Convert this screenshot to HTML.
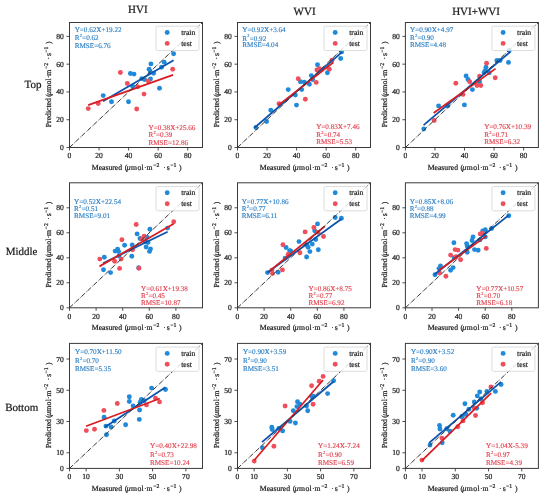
<!DOCTYPE html>
<html><head><meta charset="utf-8"><title>Scatter plots</title>
<style>
html,body{margin:0;padding:0;background:#fff;}
body{width:550px;height:498px;overflow:hidden;}
svg{display:block;font-family:"Liberation Serif",serif;will-change:transform;}
text{paint-order:stroke;stroke-width:0.22px;stroke-linejoin:round;text-rendering:geometricPrecision;}
</style></head><body>
<svg width="550" height="498" viewBox="0 0 550 498">
<rect width="550" height="498" fill="#fff"/>
<circle cx="173.6" cy="53.7" r="2.45" fill="#1f8ad9"/>
<circle cx="164.2" cy="62.3" r="2.45" fill="#1f8ad9"/>
<circle cx="150.9" cy="63.9" r="2.45" fill="#1f8ad9"/>
<circle cx="161.5" cy="67.2" r="2.45" fill="#1f8ad9"/>
<circle cx="149.1" cy="69.2" r="2.45" fill="#1f8ad9"/>
<circle cx="150.3" cy="72" r="2.45" fill="#1f8ad9"/>
<circle cx="153.6" cy="73.2" r="2.45" fill="#1f8ad9"/>
<circle cx="130.4" cy="73.5" r="2.45" fill="#1f8ad9"/>
<circle cx="134" cy="74.1" r="2.45" fill="#1f8ad9"/>
<circle cx="141.8" cy="78.6" r="2.45" fill="#1f8ad9"/>
<circle cx="144.5" cy="79.5" r="2.45" fill="#1f8ad9"/>
<circle cx="150.5" cy="79" r="2.45" fill="#1f8ad9"/>
<circle cx="132.7" cy="86.5" r="2.45" fill="#1f8ad9"/>
<circle cx="159.5" cy="88.3" r="2.45" fill="#1f8ad9"/>
<circle cx="103.2" cy="95.6" r="2.45" fill="#1f8ad9"/>
<circle cx="111.5" cy="101.7" r="2.45" fill="#1f8ad9"/>
<circle cx="128.5" cy="101.7" r="2.45" fill="#1f8ad9"/>
<circle cx="172.7" cy="69.2" r="2.45" fill="#ef4f5c"/>
<circle cx="120.4" cy="72.5" r="2.45" fill="#ef4f5c"/>
<circle cx="127.3" cy="83.5" r="2.45" fill="#ef4f5c"/>
<circle cx="148.2" cy="81" r="2.45" fill="#ef4f5c"/>
<circle cx="137.6" cy="86.8" r="2.45" fill="#ef4f5c"/>
<circle cx="144" cy="94.1" r="2.45" fill="#ef4f5c"/>
<circle cx="98.2" cy="103.5" r="2.45" fill="#ef4f5c"/>
<circle cx="88.2" cy="108.6" r="2.45" fill="#ef4f5c"/>
<circle cx="136.7" cy="109" r="2.45" fill="#ef4f5c"/>
<line x1="103" y1="101.28" x2="173.6" y2="60.15" stroke="#0a52ad" stroke-width="1.75"/>
<line x1="88.2" y1="105.18" x2="173.1" y2="74.86" stroke="#d81c22" stroke-width="1.75"/>
<line x1="69.5" y1="147.5" x2="202.5" y2="22.5" stroke="#333" stroke-width="1.0" stroke-dasharray="4.8,1.3,0.8,1.3"/>
<rect x="156" y="26.2" width="43" height="24.3" rx="1.6" fill="#ffffff" fill-opacity="0.8" stroke="#d4d4d4" stroke-width="0.8"/>
<circle cx="167.2" cy="32.5" r="2.45" fill="#1f8ad9"/>
<circle cx="167.2" cy="43.4" r="2.45" fill="#ef4f5c"/>
<text x="181.2" y="34.8" font-size="7.7" fill="#262626" stroke="#262626">train</text>
<text x="181.2" y="45.7" font-size="7.7" fill="#262626" stroke="#262626">test</text>
<text x="74.7" y="32" fill="#2b7fc4" stroke="#2b7fc4" style="stroke-width:0.14px" font-size="7.15">Y=0.62X+19.22</text>
<text x="74.7" y="40.2" fill="#2b7fc4" stroke="#2b7fc4" style="stroke-width:0.14px" font-size="7.15">R<tspan dx="0.2" dy="-3.3" font-size="4.3">2</tspan><tspan dx="0.3" dy="3.3">=0.62</tspan></text>
<text x="74.7" y="47.5" fill="#2b7fc4" stroke="#2b7fc4" style="stroke-width:0.14px" font-size="7.15">RMSE=6.76</text>
<text x="148.5" y="129.6" fill="#e0424e" stroke="#e0424e" style="stroke-width:0.14px" font-size="7.15">Y=0.38X+25.66</text>
<text x="148.5" y="137.3" fill="#e0424e" stroke="#e0424e" style="stroke-width:0.14px" font-size="7.15">R<tspan dx="0.2" dy="-3.3" font-size="4.3">2</tspan><tspan dx="0.3" dy="3.3">=0.39</tspan></text>
<text x="148.5" y="144.5" fill="#e0424e" stroke="#e0424e" style="stroke-width:0.14px" font-size="7.15">RMSE=12.86</text>
<rect x="69.5" y="22.5" width="133" height="125" fill="none" stroke="#3a3a3a" stroke-width="1"/>
<line x1="69.5" y1="147.5" x2="69.5" y2="150.5" stroke="#3a3a3a" stroke-width="0.9"/>
<line x1="66.5" y1="147.5" x2="69.5" y2="147.5" stroke="#3a3a3a" stroke-width="0.9"/>
<text x="69.5" y="158.2" font-size="7.6" text-anchor="middle" fill="#222" stroke="#222">0</text>
<text x="63.9" y="150" font-size="7.6" text-anchor="end" fill="#222" stroke="#222">0</text>
<line x1="99.06" y1="147.5" x2="99.06" y2="150.5" stroke="#3a3a3a" stroke-width="0.9"/>
<line x1="66.5" y1="119.72" x2="69.5" y2="119.72" stroke="#3a3a3a" stroke-width="0.9"/>
<text x="99.06" y="158.2" font-size="7.6" text-anchor="middle" fill="#222" stroke="#222">20</text>
<text x="63.9" y="122.22" font-size="7.6" text-anchor="end" fill="#222" stroke="#222">20</text>
<line x1="128.61" y1="147.5" x2="128.61" y2="150.5" stroke="#3a3a3a" stroke-width="0.9"/>
<line x1="66.5" y1="91.94" x2="69.5" y2="91.94" stroke="#3a3a3a" stroke-width="0.9"/>
<text x="128.61" y="158.2" font-size="7.6" text-anchor="middle" fill="#222" stroke="#222">40</text>
<text x="63.9" y="94.44" font-size="7.6" text-anchor="end" fill="#222" stroke="#222">40</text>
<line x1="158.17" y1="147.5" x2="158.17" y2="150.5" stroke="#3a3a3a" stroke-width="0.9"/>
<line x1="66.5" y1="64.17" x2="69.5" y2="64.17" stroke="#3a3a3a" stroke-width="0.9"/>
<text x="158.17" y="158.2" font-size="7.6" text-anchor="middle" fill="#222" stroke="#222">60</text>
<text x="63.9" y="66.67" font-size="7.6" text-anchor="end" fill="#222" stroke="#222">60</text>
<line x1="187.72" y1="147.5" x2="187.72" y2="150.5" stroke="#3a3a3a" stroke-width="0.9"/>
<line x1="66.5" y1="36.39" x2="69.5" y2="36.39" stroke="#3a3a3a" stroke-width="0.9"/>
<text x="187.72" y="158.2" font-size="7.6" text-anchor="middle" fill="#222" stroke="#222">80</text>
<text x="63.9" y="38.89" font-size="7.6" text-anchor="end" fill="#222" stroke="#222">80</text>
<text transform="translate(0,169.8)" font-size="7.7" fill="#222" stroke="#222"><tspan x="91.80" y="0">Measured</tspan><tspan x="124.70" y="0">(</tspan><tspan x="126.40" y="0" font-style="italic" font-size="8.4">μ</tspan><tspan x="130.90" y="0">m</tspan><tspan x="137.40" y="0">o</tspan><tspan x="141.60" y="0">l</tspan><tspan x="144.10" y="0">·</tspan><tspan x="146.50" y="0">m</tspan><tspan x="153.30" y="-3.2" font-size="5.8">−2</tspan><tspan x="163.20" y="0">·</tspan><tspan x="166.80" y="0">s</tspan><tspan x="170.20" y="-3.2" font-size="5.8">−1</tspan><tspan x="179.10" y="0">)</tspan></text>
<text transform="translate(50.8,85) rotate(-90)" font-size="7.7" fill="#222" stroke="#222"><tspan x="-42.2" y="0">Predicted</tspan><tspan x="-11.80" y="0">(</tspan><tspan x="-10.15" y="0" font-style="italic" font-size="8.4">μ</tspan><tspan x="-5.79" y="0">m</tspan><tspan x="0.52" y="0">o</tspan><tspan x="4.59" y="0">l</tspan><tspan x="7.02" y="0">·</tspan><tspan x="9.35" y="0">m</tspan><tspan x="15.91" y="-3.2" font-size="5.8">−2</tspan><tspan x="25.55" y="0">·</tspan><tspan x="29.04" y="0">s</tspan><tspan x="32.31" y="-3.2" font-size="5.8">−1</tspan><tspan x="40.97" y="0">)</tspan></text>
<circle cx="341.6" cy="51.9" r="2.45" fill="#1f8ad9"/>
<circle cx="340.7" cy="58.5" r="2.45" fill="#1f8ad9"/>
<circle cx="317.5" cy="64.7" r="2.45" fill="#1f8ad9"/>
<circle cx="327.4" cy="72.8" r="2.45" fill="#1f8ad9"/>
<circle cx="311.3" cy="75.6" r="2.45" fill="#1f8ad9"/>
<circle cx="312.6" cy="79.5" r="2.45" fill="#1f8ad9"/>
<circle cx="300.4" cy="81.7" r="2.45" fill="#1f8ad9"/>
<circle cx="304.3" cy="82.1" r="2.45" fill="#1f8ad9"/>
<circle cx="309.4" cy="84.2" r="2.45" fill="#1f8ad9"/>
<circle cx="288.2" cy="89.6" r="2.45" fill="#1f8ad9"/>
<circle cx="301.7" cy="89.6" r="2.45" fill="#1f8ad9"/>
<circle cx="295.4" cy="95.1" r="2.45" fill="#1f8ad9"/>
<circle cx="296.5" cy="105.1" r="2.45" fill="#1f8ad9"/>
<circle cx="270.8" cy="110.3" r="2.45" fill="#1f8ad9"/>
<circle cx="266.6" cy="121.5" r="2.45" fill="#1f8ad9"/>
<circle cx="255.9" cy="127.5" r="2.45" fill="#1f8ad9"/>
<circle cx="331.9" cy="60.2" r="2.45" fill="#ef4f5c"/>
<circle cx="319.4" cy="68.6" r="2.45" fill="#ef4f5c"/>
<circle cx="316.9" cy="69.9" r="2.45" fill="#ef4f5c"/>
<circle cx="329.3" cy="69.2" r="2.45" fill="#ef4f5c"/>
<circle cx="298.2" cy="78.8" r="2.45" fill="#ef4f5c"/>
<circle cx="316.2" cy="82.4" r="2.45" fill="#ef4f5c"/>
<circle cx="305.3" cy="99.2" r="2.45" fill="#ef4f5c"/>
<circle cx="279" cy="103.7" r="2.45" fill="#ef4f5c"/>
<line x1="254.5" y1="127.75" x2="342" y2="52.09" stroke="#0a52ad" stroke-width="1.75"/>
<line x1="278.5" y1="105.16" x2="333.5" y2="62.25" stroke="#d81c22" stroke-width="1.75"/>
<line x1="237.5" y1="147.5" x2="370.5" y2="22.5" stroke="#333" stroke-width="1.0" stroke-dasharray="4.8,1.3,0.8,1.3"/>
<rect x="324" y="26.2" width="43" height="24.3" rx="1.6" fill="#ffffff" fill-opacity="0.8" stroke="#d4d4d4" stroke-width="0.8"/>
<circle cx="335.2" cy="32.5" r="2.45" fill="#1f8ad9"/>
<circle cx="335.2" cy="43.4" r="2.45" fill="#ef4f5c"/>
<text x="349.2" y="34.8" font-size="7.7" fill="#262626" stroke="#262626">train</text>
<text x="349.2" y="45.7" font-size="7.7" fill="#262626" stroke="#262626">test</text>
<text x="242.3" y="31.8" fill="#2b7fc4" stroke="#2b7fc4" style="stroke-width:0.14px" font-size="7.15">Y=0.92X+3.64</text>
<text x="242.3" y="40.5" fill="#2b7fc4" stroke="#2b7fc4" style="stroke-width:0.14px" font-size="7.15">R<tspan dx="0.2" dy="-3.3" font-size="4.3">2</tspan><tspan dx="0.3" dy="3.3">=0.92</tspan></text>
<text x="242.3" y="47.4" fill="#2b7fc4" stroke="#2b7fc4" style="stroke-width:0.14px" font-size="7.15">RMSE=4.04</text>
<text x="316.2" y="129.2" fill="#e0424e" stroke="#e0424e" style="stroke-width:0.14px" font-size="7.15">Y=0.83X+7.46</text>
<text x="316.2" y="136.9" fill="#e0424e" stroke="#e0424e" style="stroke-width:0.14px" font-size="7.15">R<tspan dx="0.2" dy="-3.3" font-size="4.3">2</tspan><tspan dx="0.3" dy="3.3">=0.74</tspan></text>
<text x="316.2" y="144.2" fill="#e0424e" stroke="#e0424e" style="stroke-width:0.14px" font-size="7.15">RMSE=5.53</text>
<rect x="237.5" y="22.5" width="133" height="125" fill="none" stroke="#3a3a3a" stroke-width="1"/>
<line x1="237.5" y1="147.5" x2="237.5" y2="150.5" stroke="#3a3a3a" stroke-width="0.9"/>
<line x1="234.5" y1="147.5" x2="237.5" y2="147.5" stroke="#3a3a3a" stroke-width="0.9"/>
<text x="237.5" y="158.2" font-size="7.6" text-anchor="middle" fill="#222" stroke="#222">0</text>
<text x="231.9" y="150" font-size="7.6" text-anchor="end" fill="#222" stroke="#222">0</text>
<line x1="267.06" y1="147.5" x2="267.06" y2="150.5" stroke="#3a3a3a" stroke-width="0.9"/>
<line x1="234.5" y1="119.72" x2="237.5" y2="119.72" stroke="#3a3a3a" stroke-width="0.9"/>
<text x="267.06" y="158.2" font-size="7.6" text-anchor="middle" fill="#222" stroke="#222">20</text>
<text x="231.9" y="122.22" font-size="7.6" text-anchor="end" fill="#222" stroke="#222">20</text>
<line x1="296.61" y1="147.5" x2="296.61" y2="150.5" stroke="#3a3a3a" stroke-width="0.9"/>
<line x1="234.5" y1="91.94" x2="237.5" y2="91.94" stroke="#3a3a3a" stroke-width="0.9"/>
<text x="296.61" y="158.2" font-size="7.6" text-anchor="middle" fill="#222" stroke="#222">40</text>
<text x="231.9" y="94.44" font-size="7.6" text-anchor="end" fill="#222" stroke="#222">40</text>
<line x1="326.17" y1="147.5" x2="326.17" y2="150.5" stroke="#3a3a3a" stroke-width="0.9"/>
<line x1="234.5" y1="64.17" x2="237.5" y2="64.17" stroke="#3a3a3a" stroke-width="0.9"/>
<text x="326.17" y="158.2" font-size="7.6" text-anchor="middle" fill="#222" stroke="#222">60</text>
<text x="231.9" y="66.67" font-size="7.6" text-anchor="end" fill="#222" stroke="#222">60</text>
<line x1="355.72" y1="147.5" x2="355.72" y2="150.5" stroke="#3a3a3a" stroke-width="0.9"/>
<line x1="234.5" y1="36.39" x2="237.5" y2="36.39" stroke="#3a3a3a" stroke-width="0.9"/>
<text x="355.72" y="158.2" font-size="7.6" text-anchor="middle" fill="#222" stroke="#222">80</text>
<text x="231.9" y="38.89" font-size="7.6" text-anchor="end" fill="#222" stroke="#222">80</text>
<text transform="translate(0,169.8)" font-size="7.7" fill="#222" stroke="#222"><tspan x="259.80" y="0">Measured</tspan><tspan x="292.70" y="0">(</tspan><tspan x="294.40" y="0" font-style="italic" font-size="8.4">μ</tspan><tspan x="298.90" y="0">m</tspan><tspan x="305.40" y="0">o</tspan><tspan x="309.60" y="0">l</tspan><tspan x="312.10" y="0">·</tspan><tspan x="314.50" y="0">m</tspan><tspan x="321.30" y="-3.2" font-size="5.8">−2</tspan><tspan x="331.20" y="0">·</tspan><tspan x="334.80" y="0">s</tspan><tspan x="338.20" y="-3.2" font-size="5.8">−1</tspan><tspan x="347.10" y="0">)</tspan></text>
<text transform="translate(218.8,85) rotate(-90)" font-size="7.7" fill="#222" stroke="#222"><tspan x="-42.2" y="0">Predicted</tspan><tspan x="-11.80" y="0">(</tspan><tspan x="-10.15" y="0" font-style="italic" font-size="8.4">μ</tspan><tspan x="-5.79" y="0">m</tspan><tspan x="0.52" y="0">o</tspan><tspan x="4.59" y="0">l</tspan><tspan x="7.02" y="0">·</tspan><tspan x="9.35" y="0">m</tspan><tspan x="15.91" y="-3.2" font-size="5.8">−2</tspan><tspan x="25.55" y="0">·</tspan><tspan x="29.04" y="0">s</tspan><tspan x="32.31" y="-3.2" font-size="5.8">−1</tspan><tspan x="40.97" y="0">)</tspan></text>
<circle cx="509.4" cy="50.2" r="2.45" fill="#1f8ad9"/>
<circle cx="496.9" cy="60.5" r="2.45" fill="#1f8ad9"/>
<circle cx="500.1" cy="60.5" r="2.45" fill="#1f8ad9"/>
<circle cx="508.5" cy="62.4" r="2.45" fill="#1f8ad9"/>
<circle cx="486" cy="67.3" r="2.45" fill="#1f8ad9"/>
<circle cx="485.3" cy="70.5" r="2.45" fill="#1f8ad9"/>
<circle cx="484.1" cy="72.4" r="2.45" fill="#1f8ad9"/>
<circle cx="489.2" cy="72.7" r="2.45" fill="#1f8ad9"/>
<circle cx="466.1" cy="76" r="2.45" fill="#1f8ad9"/>
<circle cx="468" cy="79.5" r="2.45" fill="#1f8ad9"/>
<circle cx="479.6" cy="81.7" r="2.45" fill="#1f8ad9"/>
<circle cx="472.4" cy="89.6" r="2.45" fill="#1f8ad9"/>
<circle cx="464.4" cy="104.9" r="2.45" fill="#1f8ad9"/>
<circle cx="438.6" cy="105.9" r="2.45" fill="#1f8ad9"/>
<circle cx="447.6" cy="105.9" r="2.45" fill="#1f8ad9"/>
<circle cx="423.8" cy="129" r="2.45" fill="#1f8ad9"/>
<circle cx="486.6" cy="63.2" r="2.45" fill="#ef4f5c"/>
<circle cx="479.6" cy="76.3" r="2.45" fill="#ef4f5c"/>
<circle cx="495.2" cy="77.8" r="2.45" fill="#ef4f5c"/>
<circle cx="455.8" cy="83.3" r="2.45" fill="#ef4f5c"/>
<circle cx="469.7" cy="81.7" r="2.45" fill="#ef4f5c"/>
<circle cx="477" cy="85.5" r="2.45" fill="#ef4f5c"/>
<circle cx="480.8" cy="85.5" r="2.45" fill="#ef4f5c"/>
<circle cx="463" cy="94.4" r="2.45" fill="#ef4f5c"/>
<circle cx="434.2" cy="120.5" r="2.45" fill="#ef4f5c"/>
<line x1="423.6" y1="125.2" x2="510.4" y2="51.78" stroke="#0a52ad" stroke-width="1.75"/>
<line x1="433.6" y1="112.93" x2="495.6" y2="68.64" stroke="#d81c22" stroke-width="1.75"/>
<line x1="405.4" y1="147.5" x2="538.4" y2="22.5" stroke="#333" stroke-width="1.0" stroke-dasharray="4.8,1.3,0.8,1.3"/>
<rect x="491.9" y="26.2" width="43" height="24.3" rx="1.6" fill="#ffffff" fill-opacity="0.8" stroke="#d4d4d4" stroke-width="0.8"/>
<circle cx="503.1" cy="32.5" r="2.45" fill="#1f8ad9"/>
<circle cx="503.1" cy="43.4" r="2.45" fill="#ef4f5c"/>
<text x="517.1" y="34.8" font-size="7.7" fill="#262626" stroke="#262626">train</text>
<text x="517.1" y="45.7" font-size="7.7" fill="#262626" stroke="#262626">test</text>
<text x="410" y="31.8" fill="#2b7fc4" stroke="#2b7fc4" style="stroke-width:0.14px" font-size="7.15">Y=0.90X+4.97</text>
<text x="410" y="40.4" fill="#2b7fc4" stroke="#2b7fc4" style="stroke-width:0.14px" font-size="7.15">R<tspan dx="0.2" dy="-3.3" font-size="4.3">2</tspan><tspan dx="0.3" dy="3.3">=0.90</tspan></text>
<text x="410" y="47.4" fill="#2b7fc4" stroke="#2b7fc4" style="stroke-width:0.14px" font-size="7.15">RMSE=4.48</text>
<text x="484.2" y="129.2" fill="#e0424e" stroke="#e0424e" style="stroke-width:0.14px" font-size="7.15">Y=0.76X+10.39</text>
<text x="484.2" y="137" fill="#e0424e" stroke="#e0424e" style="stroke-width:0.14px" font-size="7.15">R<tspan dx="0.2" dy="-3.3" font-size="4.3">2</tspan><tspan dx="0.3" dy="3.3">=0.71</tspan></text>
<text x="484.2" y="144.2" fill="#e0424e" stroke="#e0424e" style="stroke-width:0.14px" font-size="7.15">RMSE=6.32</text>
<rect x="405.4" y="22.5" width="133" height="125" fill="none" stroke="#3a3a3a" stroke-width="1"/>
<line x1="405.4" y1="147.5" x2="405.4" y2="150.5" stroke="#3a3a3a" stroke-width="0.9"/>
<line x1="402.4" y1="147.5" x2="405.4" y2="147.5" stroke="#3a3a3a" stroke-width="0.9"/>
<text x="405.4" y="158.2" font-size="7.6" text-anchor="middle" fill="#222" stroke="#222">0</text>
<text x="399.8" y="150" font-size="7.6" text-anchor="end" fill="#222" stroke="#222">0</text>
<line x1="434.96" y1="147.5" x2="434.96" y2="150.5" stroke="#3a3a3a" stroke-width="0.9"/>
<line x1="402.4" y1="119.72" x2="405.4" y2="119.72" stroke="#3a3a3a" stroke-width="0.9"/>
<text x="434.96" y="158.2" font-size="7.6" text-anchor="middle" fill="#222" stroke="#222">20</text>
<text x="399.8" y="122.22" font-size="7.6" text-anchor="end" fill="#222" stroke="#222">20</text>
<line x1="464.51" y1="147.5" x2="464.51" y2="150.5" stroke="#3a3a3a" stroke-width="0.9"/>
<line x1="402.4" y1="91.94" x2="405.4" y2="91.94" stroke="#3a3a3a" stroke-width="0.9"/>
<text x="464.51" y="158.2" font-size="7.6" text-anchor="middle" fill="#222" stroke="#222">40</text>
<text x="399.8" y="94.44" font-size="7.6" text-anchor="end" fill="#222" stroke="#222">40</text>
<line x1="494.07" y1="147.5" x2="494.07" y2="150.5" stroke="#3a3a3a" stroke-width="0.9"/>
<line x1="402.4" y1="64.17" x2="405.4" y2="64.17" stroke="#3a3a3a" stroke-width="0.9"/>
<text x="494.07" y="158.2" font-size="7.6" text-anchor="middle" fill="#222" stroke="#222">60</text>
<text x="399.8" y="66.67" font-size="7.6" text-anchor="end" fill="#222" stroke="#222">60</text>
<line x1="523.62" y1="147.5" x2="523.62" y2="150.5" stroke="#3a3a3a" stroke-width="0.9"/>
<line x1="402.4" y1="36.39" x2="405.4" y2="36.39" stroke="#3a3a3a" stroke-width="0.9"/>
<text x="523.62" y="158.2" font-size="7.6" text-anchor="middle" fill="#222" stroke="#222">80</text>
<text x="399.8" y="38.89" font-size="7.6" text-anchor="end" fill="#222" stroke="#222">80</text>
<text transform="translate(0,169.8)" font-size="7.7" fill="#222" stroke="#222"><tspan x="427.70" y="0">Measured</tspan><tspan x="460.60" y="0">(</tspan><tspan x="462.30" y="0" font-style="italic" font-size="8.4">μ</tspan><tspan x="466.80" y="0">m</tspan><tspan x="473.30" y="0">o</tspan><tspan x="477.50" y="0">l</tspan><tspan x="480.00" y="0">·</tspan><tspan x="482.40" y="0">m</tspan><tspan x="489.20" y="-3.2" font-size="5.8">−2</tspan><tspan x="499.10" y="0">·</tspan><tspan x="502.70" y="0">s</tspan><tspan x="506.10" y="-3.2" font-size="5.8">−1</tspan><tspan x="515.00" y="0">)</tspan></text>
<text transform="translate(386.7,85) rotate(-90)" font-size="7.7" fill="#222" stroke="#222"><tspan x="-42.2" y="0">Predicted</tspan><tspan x="-11.80" y="0">(</tspan><tspan x="-10.15" y="0" font-style="italic" font-size="8.4">μ</tspan><tspan x="-5.79" y="0">m</tspan><tspan x="0.52" y="0">o</tspan><tspan x="4.59" y="0">l</tspan><tspan x="7.02" y="0">·</tspan><tspan x="9.35" y="0">m</tspan><tspan x="15.91" y="-3.2" font-size="5.8">−2</tspan><tspan x="25.55" y="0">·</tspan><tspan x="29.04" y="0">s</tspan><tspan x="32.31" y="-3.2" font-size="5.8">−1</tspan><tspan x="40.97" y="0">)</tspan></text>
<circle cx="167.6" cy="228.1" r="2.45" fill="#1f8ad9"/>
<circle cx="149.9" cy="229.3" r="2.45" fill="#1f8ad9"/>
<circle cx="137.1" cy="233.9" r="2.45" fill="#1f8ad9"/>
<circle cx="140" cy="238.5" r="2.45" fill="#1f8ad9"/>
<circle cx="147" cy="237.2" r="2.45" fill="#1f8ad9"/>
<circle cx="145.1" cy="241.7" r="2.45" fill="#1f8ad9"/>
<circle cx="148" cy="242.5" r="2.45" fill="#1f8ad9"/>
<circle cx="146.1" cy="247" r="2.45" fill="#1f8ad9"/>
<circle cx="150.5" cy="249" r="2.45" fill="#1f8ad9"/>
<circle cx="149.5" cy="251.4" r="2.45" fill="#1f8ad9"/>
<circle cx="132.2" cy="244.9" r="2.45" fill="#1f8ad9"/>
<circle cx="124.6" cy="245.3" r="2.45" fill="#1f8ad9"/>
<circle cx="115.1" cy="251.1" r="2.45" fill="#1f8ad9"/>
<circle cx="117.6" cy="249.1" r="2.45" fill="#1f8ad9"/>
<circle cx="118.6" cy="251.6" r="2.45" fill="#1f8ad9"/>
<circle cx="119.1" cy="255.9" r="2.45" fill="#1f8ad9"/>
<circle cx="104.3" cy="257.3" r="2.45" fill="#1f8ad9"/>
<circle cx="131.8" cy="256.2" r="2.45" fill="#1f8ad9"/>
<circle cx="103.5" cy="269.7" r="2.45" fill="#1f8ad9"/>
<circle cx="110.6" cy="272.6" r="2.45" fill="#1f8ad9"/>
<circle cx="138.7" cy="267.7" r="2.45" fill="#1f8ad9"/>
<circle cx="173.7" cy="221.8" r="2.45" fill="#ef4f5c"/>
<circle cx="136.2" cy="224.5" r="2.45" fill="#ef4f5c"/>
<circle cx="144.1" cy="236.2" r="2.45" fill="#ef4f5c"/>
<circle cx="142" cy="239.1" r="2.45" fill="#ef4f5c"/>
<circle cx="121.9" cy="239.8" r="2.45" fill="#ef4f5c"/>
<circle cx="132.6" cy="249.8" r="2.45" fill="#ef4f5c"/>
<circle cx="99.8" cy="259.1" r="2.45" fill="#ef4f5c"/>
<circle cx="114.6" cy="261.3" r="2.45" fill="#ef4f5c"/>
<circle cx="121.1" cy="259.1" r="2.45" fill="#ef4f5c"/>
<circle cx="119.6" cy="268.4" r="2.45" fill="#ef4f5c"/>
<circle cx="138.9" cy="268.2" r="2.45" fill="#ef4f5c"/>
<line x1="103" y1="263.25" x2="167.6" y2="231.68" stroke="#0a52ad" stroke-width="1.75"/>
<line x1="99.5" y1="266.38" x2="173.7" y2="223.84" stroke="#d81c22" stroke-width="1.75"/>
<line x1="69.5" y1="307.8" x2="202.5" y2="182.8" stroke="#333" stroke-width="1.0" stroke-dasharray="4.8,1.3,0.8,1.3"/>
<rect x="156" y="186.5" width="43" height="24.3" rx="1.6" fill="#ffffff" fill-opacity="0.8" stroke="#d4d4d4" stroke-width="0.8"/>
<circle cx="167.2" cy="192.8" r="2.45" fill="#1f8ad9"/>
<circle cx="167.2" cy="203.7" r="2.45" fill="#ef4f5c"/>
<text x="181.2" y="195.1" font-size="7.7" fill="#262626" stroke="#262626">train</text>
<text x="181.2" y="206" font-size="7.7" fill="#262626" stroke="#262626">test</text>
<text x="74.1" y="203.8" fill="#2b7fc4" stroke="#2b7fc4" style="stroke-width:0.14px" font-size="7.15">Y=0.52X+22.54</text>
<text x="74.1" y="211" fill="#2b7fc4" stroke="#2b7fc4" style="stroke-width:0.14px" font-size="7.15">R<tspan dx="0.2" dy="-3.3" font-size="4.3">2</tspan><tspan dx="0.3" dy="3.3">=0.51</tspan></text>
<text x="74.1" y="217.8" fill="#2b7fc4" stroke="#2b7fc4" style="stroke-width:0.14px" font-size="7.15">RMSE=9.01</text>
<text x="141" y="291.2" fill="#e0424e" stroke="#e0424e" style="stroke-width:0.14px" font-size="7.15">Y=0.61X+19.38</text>
<text x="141" y="298.3" fill="#e0424e" stroke="#e0424e" style="stroke-width:0.14px" font-size="7.15">R<tspan dx="0.2" dy="-3.3" font-size="4.3">2</tspan><tspan dx="0.3" dy="3.3">=0.45</tspan></text>
<text x="141" y="305.1" fill="#e0424e" stroke="#e0424e" style="stroke-width:0.14px" font-size="7.15">RMSE=10.87</text>
<rect x="69.5" y="182.8" width="133" height="125" fill="none" stroke="#3a3a3a" stroke-width="1"/>
<line x1="69.5" y1="307.8" x2="69.5" y2="310.8" stroke="#3a3a3a" stroke-width="0.9"/>
<line x1="66.5" y1="307.8" x2="69.5" y2="307.8" stroke="#3a3a3a" stroke-width="0.9"/>
<text x="69.5" y="318.5" font-size="7.6" text-anchor="middle" fill="#222" stroke="#222">0</text>
<text x="63.9" y="310.3" font-size="7.6" text-anchor="end" fill="#222" stroke="#222">0</text>
<line x1="96.1" y1="307.8" x2="96.1" y2="310.8" stroke="#3a3a3a" stroke-width="0.9"/>
<line x1="66.5" y1="282.8" x2="69.5" y2="282.8" stroke="#3a3a3a" stroke-width="0.9"/>
<text x="96.1" y="318.5" font-size="7.6" text-anchor="middle" fill="#222" stroke="#222">20</text>
<text x="63.9" y="285.3" font-size="7.6" text-anchor="end" fill="#222" stroke="#222">20</text>
<line x1="122.7" y1="307.8" x2="122.7" y2="310.8" stroke="#3a3a3a" stroke-width="0.9"/>
<line x1="66.5" y1="257.8" x2="69.5" y2="257.8" stroke="#3a3a3a" stroke-width="0.9"/>
<text x="122.7" y="318.5" font-size="7.6" text-anchor="middle" fill="#222" stroke="#222">40</text>
<text x="63.9" y="260.3" font-size="7.6" text-anchor="end" fill="#222" stroke="#222">40</text>
<line x1="149.3" y1="307.8" x2="149.3" y2="310.8" stroke="#3a3a3a" stroke-width="0.9"/>
<line x1="66.5" y1="232.8" x2="69.5" y2="232.8" stroke="#3a3a3a" stroke-width="0.9"/>
<text x="149.3" y="318.5" font-size="7.6" text-anchor="middle" fill="#222" stroke="#222">60</text>
<text x="63.9" y="235.3" font-size="7.6" text-anchor="end" fill="#222" stroke="#222">60</text>
<line x1="175.9" y1="307.8" x2="175.9" y2="310.8" stroke="#3a3a3a" stroke-width="0.9"/>
<line x1="66.5" y1="207.8" x2="69.5" y2="207.8" stroke="#3a3a3a" stroke-width="0.9"/>
<text x="175.9" y="318.5" font-size="7.6" text-anchor="middle" fill="#222" stroke="#222">80</text>
<text x="63.9" y="210.3" font-size="7.6" text-anchor="end" fill="#222" stroke="#222">80</text>
<text transform="translate(0,330.1)" font-size="7.7" fill="#222" stroke="#222"><tspan x="91.80" y="0">Measured</tspan><tspan x="124.70" y="0">(</tspan><tspan x="126.40" y="0" font-style="italic" font-size="8.4">μ</tspan><tspan x="130.90" y="0">m</tspan><tspan x="137.40" y="0">o</tspan><tspan x="141.60" y="0">l</tspan><tspan x="144.10" y="0">·</tspan><tspan x="146.50" y="0">m</tspan><tspan x="153.30" y="-3.2" font-size="5.8">−2</tspan><tspan x="163.20" y="0">·</tspan><tspan x="166.80" y="0">s</tspan><tspan x="170.20" y="-3.2" font-size="5.8">−1</tspan><tspan x="179.10" y="0">)</tspan></text>
<text transform="translate(50.8,245.3) rotate(-90)" font-size="7.7" fill="#222" stroke="#222"><tspan x="-42.2" y="0">Predicted</tspan><tspan x="-11.80" y="0">(</tspan><tspan x="-10.15" y="0" font-style="italic" font-size="8.4">μ</tspan><tspan x="-5.79" y="0">m</tspan><tspan x="0.52" y="0">o</tspan><tspan x="4.59" y="0">l</tspan><tspan x="7.02" y="0">·</tspan><tspan x="9.35" y="0">m</tspan><tspan x="15.91" y="-3.2" font-size="5.8">−2</tspan><tspan x="25.55" y="0">·</tspan><tspan x="29.04" y="0">s</tspan><tspan x="32.31" y="-3.2" font-size="5.8">−1</tspan><tspan x="40.97" y="0">)</tspan></text>
<circle cx="335.2" cy="217.5" r="2.45" fill="#1f8ad9"/>
<circle cx="341.4" cy="218.2" r="2.45" fill="#1f8ad9"/>
<circle cx="317.5" cy="223.9" r="2.45" fill="#1f8ad9"/>
<circle cx="314.7" cy="230.7" r="2.45" fill="#1f8ad9"/>
<circle cx="299" cy="241.6" r="2.45" fill="#1f8ad9"/>
<circle cx="315.7" cy="239.5" r="2.45" fill="#1f8ad9"/>
<circle cx="312.3" cy="244.1" r="2.45" fill="#1f8ad9"/>
<circle cx="306.9" cy="244.9" r="2.45" fill="#1f8ad9"/>
<circle cx="308.1" cy="247.3" r="2.45" fill="#1f8ad9"/>
<circle cx="309.9" cy="251.6" r="2.45" fill="#1f8ad9"/>
<circle cx="318.3" cy="249.8" r="2.45" fill="#1f8ad9"/>
<circle cx="306.6" cy="257" r="2.45" fill="#1f8ad9"/>
<circle cx="290.6" cy="251" r="2.45" fill="#1f8ad9"/>
<circle cx="286.1" cy="247.5" r="2.45" fill="#1f8ad9"/>
<circle cx="289.6" cy="250.8" r="2.45" fill="#1f8ad9"/>
<circle cx="285.1" cy="258.1" r="2.45" fill="#1f8ad9"/>
<circle cx="267.5" cy="272.6" r="2.45" fill="#1f8ad9"/>
<circle cx="278.1" cy="272.3" r="2.45" fill="#1f8ad9"/>
<circle cx="313.9" cy="227.5" r="2.45" fill="#ef4f5c"/>
<circle cx="305.1" cy="231.9" r="2.45" fill="#ef4f5c"/>
<circle cx="318" cy="232.3" r="2.45" fill="#ef4f5c"/>
<circle cx="323.5" cy="236.5" r="2.45" fill="#ef4f5c"/>
<circle cx="299.9" cy="252.8" r="2.45" fill="#ef4f5c"/>
<circle cx="282.9" cy="244.7" r="2.45" fill="#ef4f5c"/>
<circle cx="288.1" cy="254.4" r="2.45" fill="#ef4f5c"/>
<circle cx="282.4" cy="269.9" r="2.45" fill="#ef4f5c"/>
<circle cx="272" cy="270.1" r="2.45" fill="#ef4f5c"/>
<circle cx="272.5" cy="273.6" r="2.45" fill="#ef4f5c"/>
<line x1="267.5" y1="272.51" x2="341.4" y2="219.03" stroke="#0a52ad" stroke-width="1.75"/>
<line x1="270" y1="270.59" x2="324.9" y2="226.22" stroke="#d81c22" stroke-width="1.75"/>
<line x1="237.5" y1="307.8" x2="370.5" y2="182.8" stroke="#333" stroke-width="1.0" stroke-dasharray="4.8,1.3,0.8,1.3"/>
<rect x="324" y="186.5" width="43" height="24.3" rx="1.6" fill="#ffffff" fill-opacity="0.8" stroke="#d4d4d4" stroke-width="0.8"/>
<circle cx="335.2" cy="192.8" r="2.45" fill="#1f8ad9"/>
<circle cx="335.2" cy="203.7" r="2.45" fill="#ef4f5c"/>
<text x="349.2" y="195.1" font-size="7.7" fill="#262626" stroke="#262626">train</text>
<text x="349.2" y="206" font-size="7.7" fill="#262626" stroke="#262626">test</text>
<text x="241.7" y="203.6" fill="#2b7fc4" stroke="#2b7fc4" style="stroke-width:0.14px" font-size="7.15">Y=0.77X+10.86</text>
<text x="241.7" y="211" fill="#2b7fc4" stroke="#2b7fc4" style="stroke-width:0.14px" font-size="7.15">R<tspan dx="0.2" dy="-3.3" font-size="4.3">2</tspan><tspan dx="0.3" dy="3.3">=0.77</tspan></text>
<text x="241.7" y="217.8" fill="#2b7fc4" stroke="#2b7fc4" style="stroke-width:0.14px" font-size="7.15">RMSE=6.11</text>
<text x="308.5" y="291.2" fill="#e0424e" stroke="#e0424e" style="stroke-width:0.14px" font-size="7.15">Y=0.86X+8.75</text>
<text x="308.5" y="298.3" fill="#e0424e" stroke="#e0424e" style="stroke-width:0.14px" font-size="7.15">R<tspan dx="0.2" dy="-3.3" font-size="4.3">2</tspan><tspan dx="0.3" dy="3.3">=0.77</tspan></text>
<text x="308.5" y="305" fill="#e0424e" stroke="#e0424e" style="stroke-width:0.14px" font-size="7.15">RMSE=6.92</text>
<rect x="237.5" y="182.8" width="133" height="125" fill="none" stroke="#3a3a3a" stroke-width="1"/>
<line x1="237.5" y1="307.8" x2="237.5" y2="310.8" stroke="#3a3a3a" stroke-width="0.9"/>
<line x1="234.5" y1="307.8" x2="237.5" y2="307.8" stroke="#3a3a3a" stroke-width="0.9"/>
<text x="237.5" y="318.5" font-size="7.6" text-anchor="middle" fill="#222" stroke="#222">0</text>
<text x="231.9" y="310.3" font-size="7.6" text-anchor="end" fill="#222" stroke="#222">0</text>
<line x1="264.1" y1="307.8" x2="264.1" y2="310.8" stroke="#3a3a3a" stroke-width="0.9"/>
<line x1="234.5" y1="282.8" x2="237.5" y2="282.8" stroke="#3a3a3a" stroke-width="0.9"/>
<text x="264.1" y="318.5" font-size="7.6" text-anchor="middle" fill="#222" stroke="#222">20</text>
<text x="231.9" y="285.3" font-size="7.6" text-anchor="end" fill="#222" stroke="#222">20</text>
<line x1="290.7" y1="307.8" x2="290.7" y2="310.8" stroke="#3a3a3a" stroke-width="0.9"/>
<line x1="234.5" y1="257.8" x2="237.5" y2="257.8" stroke="#3a3a3a" stroke-width="0.9"/>
<text x="290.7" y="318.5" font-size="7.6" text-anchor="middle" fill="#222" stroke="#222">40</text>
<text x="231.9" y="260.3" font-size="7.6" text-anchor="end" fill="#222" stroke="#222">40</text>
<line x1="317.3" y1="307.8" x2="317.3" y2="310.8" stroke="#3a3a3a" stroke-width="0.9"/>
<line x1="234.5" y1="232.8" x2="237.5" y2="232.8" stroke="#3a3a3a" stroke-width="0.9"/>
<text x="317.3" y="318.5" font-size="7.6" text-anchor="middle" fill="#222" stroke="#222">60</text>
<text x="231.9" y="235.3" font-size="7.6" text-anchor="end" fill="#222" stroke="#222">60</text>
<line x1="343.9" y1="307.8" x2="343.9" y2="310.8" stroke="#3a3a3a" stroke-width="0.9"/>
<line x1="234.5" y1="207.8" x2="237.5" y2="207.8" stroke="#3a3a3a" stroke-width="0.9"/>
<text x="343.9" y="318.5" font-size="7.6" text-anchor="middle" fill="#222" stroke="#222">80</text>
<text x="231.9" y="210.3" font-size="7.6" text-anchor="end" fill="#222" stroke="#222">80</text>
<text transform="translate(0,330.1)" font-size="7.7" fill="#222" stroke="#222"><tspan x="259.80" y="0">Measured</tspan><tspan x="292.70" y="0">(</tspan><tspan x="294.40" y="0" font-style="italic" font-size="8.4">μ</tspan><tspan x="298.90" y="0">m</tspan><tspan x="305.40" y="0">o</tspan><tspan x="309.60" y="0">l</tspan><tspan x="312.10" y="0">·</tspan><tspan x="314.50" y="0">m</tspan><tspan x="321.30" y="-3.2" font-size="5.8">−2</tspan><tspan x="331.20" y="0">·</tspan><tspan x="334.80" y="0">s</tspan><tspan x="338.20" y="-3.2" font-size="5.8">−1</tspan><tspan x="347.10" y="0">)</tspan></text>
<text transform="translate(218.8,245.3) rotate(-90)" font-size="7.7" fill="#222" stroke="#222"><tspan x="-42.2" y="0">Predicted</tspan><tspan x="-11.80" y="0">(</tspan><tspan x="-10.15" y="0" font-style="italic" font-size="8.4">μ</tspan><tspan x="-5.79" y="0">m</tspan><tspan x="0.52" y="0">o</tspan><tspan x="4.59" y="0">l</tspan><tspan x="7.02" y="0">·</tspan><tspan x="9.35" y="0">m</tspan><tspan x="15.91" y="-3.2" font-size="5.8">−2</tspan><tspan x="25.55" y="0">·</tspan><tspan x="29.04" y="0">s</tspan><tspan x="32.31" y="-3.2" font-size="5.8">−1</tspan><tspan x="40.97" y="0">)</tspan></text>
<circle cx="508.8" cy="215.8" r="2.45" fill="#1f8ad9"/>
<circle cx="491.6" cy="228.5" r="2.45" fill="#1f8ad9"/>
<circle cx="485.3" cy="229.7" r="2.45" fill="#1f8ad9"/>
<circle cx="482.7" cy="230.9" r="2.45" fill="#1f8ad9"/>
<circle cx="473" cy="236.9" r="2.45" fill="#1f8ad9"/>
<circle cx="472" cy="240.5" r="2.45" fill="#1f8ad9"/>
<circle cx="466.6" cy="243.6" r="2.45" fill="#1f8ad9"/>
<circle cx="467.2" cy="246" r="2.45" fill="#1f8ad9"/>
<circle cx="485.3" cy="236.9" r="2.45" fill="#1f8ad9"/>
<circle cx="479.9" cy="239.9" r="2.45" fill="#1f8ad9"/>
<circle cx="474.5" cy="249.6" r="2.45" fill="#1f8ad9"/>
<circle cx="478.1" cy="250.2" r="2.45" fill="#1f8ad9"/>
<circle cx="467.2" cy="252.2" r="2.45" fill="#1f8ad9"/>
<circle cx="453.9" cy="242.8" r="2.45" fill="#1f8ad9"/>
<circle cx="454.1" cy="257.6" r="2.45" fill="#1f8ad9"/>
<circle cx="440.5" cy="265.9" r="2.45" fill="#1f8ad9"/>
<circle cx="439" cy="268.6" r="2.45" fill="#1f8ad9"/>
<circle cx="453.1" cy="267.6" r="2.45" fill="#1f8ad9"/>
<circle cx="450.6" cy="270.3" r="2.45" fill="#1f8ad9"/>
<circle cx="435" cy="274.7" r="2.45" fill="#1f8ad9"/>
<circle cx="480.2" cy="233.9" r="2.45" fill="#ef4f5c"/>
<circle cx="482.3" cy="233.3" r="2.45" fill="#ef4f5c"/>
<circle cx="486.3" cy="248.4" r="2.45" fill="#ef4f5c"/>
<circle cx="460.6" cy="259.8" r="2.45" fill="#ef4f5c"/>
<circle cx="455.1" cy="249.6" r="2.45" fill="#ef4f5c"/>
<circle cx="457.9" cy="250.1" r="2.45" fill="#ef4f5c"/>
<circle cx="450.6" cy="255.1" r="2.45" fill="#ef4f5c"/>
<circle cx="456.1" cy="256.6" r="2.45" fill="#ef4f5c"/>
<circle cx="439.5" cy="273" r="2.45" fill="#ef4f5c"/>
<circle cx="445.9" cy="276.2" r="2.45" fill="#ef4f5c"/>
<line x1="434.5" y1="274.48" x2="508.8" y2="215.12" stroke="#0a52ad" stroke-width="1.75"/>
<line x1="439" y1="270.27" x2="486.5" y2="235.9" stroke="#d81c22" stroke-width="1.75"/>
<line x1="405.4" y1="307.8" x2="538.4" y2="182.8" stroke="#333" stroke-width="1.0" stroke-dasharray="4.8,1.3,0.8,1.3"/>
<rect x="491.9" y="186.5" width="43" height="24.3" rx="1.6" fill="#ffffff" fill-opacity="0.8" stroke="#d4d4d4" stroke-width="0.8"/>
<circle cx="503.1" cy="192.8" r="2.45" fill="#1f8ad9"/>
<circle cx="503.1" cy="203.7" r="2.45" fill="#ef4f5c"/>
<text x="517.1" y="195.1" font-size="7.7" fill="#262626" stroke="#262626">train</text>
<text x="517.1" y="206" font-size="7.7" fill="#262626" stroke="#262626">test</text>
<text x="409.7" y="203.6" fill="#2b7fc4" stroke="#2b7fc4" style="stroke-width:0.14px" font-size="7.15">Y=0.85X+8.06</text>
<text x="409.7" y="211" fill="#2b7fc4" stroke="#2b7fc4" style="stroke-width:0.14px" font-size="7.15">R<tspan dx="0.2" dy="-3.3" font-size="4.3">2</tspan><tspan dx="0.3" dy="3.3">=0.88</tspan></text>
<text x="409.7" y="217.8" fill="#2b7fc4" stroke="#2b7fc4" style="stroke-width:0.14px" font-size="7.15">RMSE=4.99</text>
<text x="476.3" y="291.2" fill="#e0424e" stroke="#e0424e" style="stroke-width:0.14px" font-size="7.15">Y=0.77X+10.57</text>
<text x="476.3" y="298.3" fill="#e0424e" stroke="#e0424e" style="stroke-width:0.14px" font-size="7.15">R<tspan dx="0.2" dy="-3.3" font-size="4.3">2</tspan><tspan dx="0.3" dy="3.3">=0.70</tspan></text>
<text x="476.3" y="305" fill="#e0424e" stroke="#e0424e" style="stroke-width:0.14px" font-size="7.15">RMSE=6.18</text>
<rect x="405.4" y="182.8" width="133" height="125" fill="none" stroke="#3a3a3a" stroke-width="1"/>
<line x1="405.4" y1="307.8" x2="405.4" y2="310.8" stroke="#3a3a3a" stroke-width="0.9"/>
<line x1="402.4" y1="307.8" x2="405.4" y2="307.8" stroke="#3a3a3a" stroke-width="0.9"/>
<text x="405.4" y="318.5" font-size="7.6" text-anchor="middle" fill="#222" stroke="#222">0</text>
<text x="399.8" y="310.3" font-size="7.6" text-anchor="end" fill="#222" stroke="#222">0</text>
<line x1="432" y1="307.8" x2="432" y2="310.8" stroke="#3a3a3a" stroke-width="0.9"/>
<line x1="402.4" y1="282.8" x2="405.4" y2="282.8" stroke="#3a3a3a" stroke-width="0.9"/>
<text x="432" y="318.5" font-size="7.6" text-anchor="middle" fill="#222" stroke="#222">20</text>
<text x="399.8" y="285.3" font-size="7.6" text-anchor="end" fill="#222" stroke="#222">20</text>
<line x1="458.6" y1="307.8" x2="458.6" y2="310.8" stroke="#3a3a3a" stroke-width="0.9"/>
<line x1="402.4" y1="257.8" x2="405.4" y2="257.8" stroke="#3a3a3a" stroke-width="0.9"/>
<text x="458.6" y="318.5" font-size="7.6" text-anchor="middle" fill="#222" stroke="#222">40</text>
<text x="399.8" y="260.3" font-size="7.6" text-anchor="end" fill="#222" stroke="#222">40</text>
<line x1="485.2" y1="307.8" x2="485.2" y2="310.8" stroke="#3a3a3a" stroke-width="0.9"/>
<line x1="402.4" y1="232.8" x2="405.4" y2="232.8" stroke="#3a3a3a" stroke-width="0.9"/>
<text x="485.2" y="318.5" font-size="7.6" text-anchor="middle" fill="#222" stroke="#222">60</text>
<text x="399.8" y="235.3" font-size="7.6" text-anchor="end" fill="#222" stroke="#222">60</text>
<line x1="511.8" y1="307.8" x2="511.8" y2="310.8" stroke="#3a3a3a" stroke-width="0.9"/>
<line x1="402.4" y1="207.8" x2="405.4" y2="207.8" stroke="#3a3a3a" stroke-width="0.9"/>
<text x="511.8" y="318.5" font-size="7.6" text-anchor="middle" fill="#222" stroke="#222">80</text>
<text x="399.8" y="210.3" font-size="7.6" text-anchor="end" fill="#222" stroke="#222">80</text>
<text transform="translate(0,330.1)" font-size="7.7" fill="#222" stroke="#222"><tspan x="427.70" y="0">Measured</tspan><tspan x="460.60" y="0">(</tspan><tspan x="462.30" y="0" font-style="italic" font-size="8.4">μ</tspan><tspan x="466.80" y="0">m</tspan><tspan x="473.30" y="0">o</tspan><tspan x="477.50" y="0">l</tspan><tspan x="480.00" y="0">·</tspan><tspan x="482.40" y="0">m</tspan><tspan x="489.20" y="-3.2" font-size="5.8">−2</tspan><tspan x="499.10" y="0">·</tspan><tspan x="502.70" y="0">s</tspan><tspan x="506.10" y="-3.2" font-size="5.8">−1</tspan><tspan x="515.00" y="0">)</tspan></text>
<text transform="translate(386.7,245.3) rotate(-90)" font-size="7.7" fill="#222" stroke="#222"><tspan x="-42.2" y="0">Predicted</tspan><tspan x="-11.80" y="0">(</tspan><tspan x="-10.15" y="0" font-style="italic" font-size="8.4">μ</tspan><tspan x="-5.79" y="0">m</tspan><tspan x="0.52" y="0">o</tspan><tspan x="4.59" y="0">l</tspan><tspan x="7.02" y="0">·</tspan><tspan x="9.35" y="0">m</tspan><tspan x="15.91" y="-3.2" font-size="5.8">−2</tspan><tspan x="25.55" y="0">·</tspan><tspan x="29.04" y="0">s</tspan><tspan x="32.31" y="-3.2" font-size="5.8">−1</tspan><tspan x="40.97" y="0">)</tspan></text>
<circle cx="165.5" cy="389.5" r="2.45" fill="#1f8ad9"/>
<circle cx="151.6" cy="388.1" r="2.45" fill="#1f8ad9"/>
<circle cx="129.3" cy="396.8" r="2.45" fill="#1f8ad9"/>
<circle cx="129.3" cy="401.5" r="2.45" fill="#1f8ad9"/>
<circle cx="141.4" cy="399.5" r="2.45" fill="#1f8ad9"/>
<circle cx="144.1" cy="400.7" r="2.45" fill="#1f8ad9"/>
<circle cx="140.2" cy="402.3" r="2.45" fill="#1f8ad9"/>
<circle cx="133.1" cy="405.9" r="2.45" fill="#1f8ad9"/>
<circle cx="139.6" cy="410" r="2.45" fill="#1f8ad9"/>
<circle cx="139.3" cy="419.4" r="2.45" fill="#1f8ad9"/>
<circle cx="125.6" cy="424.8" r="2.45" fill="#1f8ad9"/>
<circle cx="104.1" cy="417.3" r="2.45" fill="#1f8ad9"/>
<circle cx="114.3" cy="421" r="2.45" fill="#1f8ad9"/>
<circle cx="105.9" cy="426.1" r="2.45" fill="#1f8ad9"/>
<circle cx="111.1" cy="427" r="2.45" fill="#1f8ad9"/>
<circle cx="106.5" cy="434.8" r="2.45" fill="#1f8ad9"/>
<circle cx="155.5" cy="398.3" r="2.45" fill="#ef4f5c"/>
<circle cx="159.5" cy="401.9" r="2.45" fill="#ef4f5c"/>
<circle cx="146.5" cy="404.9" r="2.45" fill="#ef4f5c"/>
<circle cx="117.3" cy="403.5" r="2.45" fill="#ef4f5c"/>
<circle cx="103.9" cy="410.4" r="2.45" fill="#ef4f5c"/>
<circle cx="86.3" cy="430.6" r="2.45" fill="#ef4f5c"/>
<circle cx="94.5" cy="429.2" r="2.45" fill="#ef4f5c"/>
<line x1="104.7" y1="427.27" x2="165.5" y2="387.27" stroke="#0a52ad" stroke-width="1.75"/>
<line x1="86" y1="426.29" x2="159.8" y2="398.55" stroke="#d81c22" stroke-width="1.75"/>
<line x1="69.5" y1="468.4" x2="202.5" y2="343.4" stroke="#333" stroke-width="1.0" stroke-dasharray="4.8,1.3,0.8,1.3"/>
<rect x="156" y="347.1" width="43" height="24.3" rx="1.6" fill="#ffffff" fill-opacity="0.8" stroke="#d4d4d4" stroke-width="0.8"/>
<circle cx="167.2" cy="353.4" r="2.45" fill="#1f8ad9"/>
<circle cx="167.2" cy="364.3" r="2.45" fill="#ef4f5c"/>
<text x="181.2" y="355.7" font-size="7.7" fill="#262626" stroke="#262626">train</text>
<text x="181.2" y="366.6" font-size="7.7" fill="#262626" stroke="#262626">test</text>
<text x="75" y="353.9" fill="#2b7fc4" stroke="#2b7fc4" style="stroke-width:0.14px" font-size="7.15">Y=0.70X+11.50</text>
<text x="75" y="363.2" fill="#2b7fc4" stroke="#2b7fc4" style="stroke-width:0.14px" font-size="7.15">R<tspan dx="0.2" dy="-3.3" font-size="4.3">2</tspan><tspan dx="0.3" dy="3.3">=0.70</tspan></text>
<text x="75" y="371.4" fill="#2b7fc4" stroke="#2b7fc4" style="stroke-width:0.14px" font-size="7.15">RMSE=5.35</text>
<text x="150" y="448" fill="#e0424e" stroke="#e0424e" style="stroke-width:0.14px" font-size="7.15">Y=0.40X+22.98</text>
<text x="150" y="456.8" fill="#e0424e" stroke="#e0424e" style="stroke-width:0.14px" font-size="7.15">R<tspan dx="0.2" dy="-3.3" font-size="4.3">2</tspan><tspan dx="0.3" dy="3.3">=0.73</tspan></text>
<text x="150" y="465.1" fill="#e0424e" stroke="#e0424e" style="stroke-width:0.14px" font-size="7.15">RMSE=10.24</text>
<rect x="69.5" y="343.4" width="133" height="125" fill="none" stroke="#3a3a3a" stroke-width="1"/>
<line x1="69.5" y1="468.4" x2="69.5" y2="471.4" stroke="#3a3a3a" stroke-width="0.9"/>
<line x1="66.5" y1="468.4" x2="69.5" y2="468.4" stroke="#3a3a3a" stroke-width="0.9"/>
<text x="69.5" y="479.1" font-size="7.6" text-anchor="middle" fill="#222" stroke="#222">0</text>
<text x="63.9" y="470.9" font-size="7.6" text-anchor="end" fill="#222" stroke="#222">0</text>
<line x1="86.12" y1="468.4" x2="86.12" y2="471.4" stroke="#3a3a3a" stroke-width="0.9"/>
<line x1="66.5" y1="452.77" x2="69.5" y2="452.77" stroke="#3a3a3a" stroke-width="0.9"/>
<text x="86.12" y="479.1" font-size="7.6" text-anchor="middle" fill="#222" stroke="#222">10</text>
<text x="63.9" y="455.27" font-size="7.6" text-anchor="end" fill="#222" stroke="#222">10</text>
<line x1="119.38" y1="468.4" x2="119.38" y2="471.4" stroke="#3a3a3a" stroke-width="0.9"/>
<line x1="66.5" y1="421.52" x2="69.5" y2="421.52" stroke="#3a3a3a" stroke-width="0.9"/>
<text x="119.38" y="479.1" font-size="7.6" text-anchor="middle" fill="#222" stroke="#222">30</text>
<text x="63.9" y="424.02" font-size="7.6" text-anchor="end" fill="#222" stroke="#222">30</text>
<line x1="152.62" y1="468.4" x2="152.62" y2="471.4" stroke="#3a3a3a" stroke-width="0.9"/>
<line x1="66.5" y1="390.27" x2="69.5" y2="390.27" stroke="#3a3a3a" stroke-width="0.9"/>
<text x="152.62" y="479.1" font-size="7.6" text-anchor="middle" fill="#222" stroke="#222">50</text>
<text x="63.9" y="392.77" font-size="7.6" text-anchor="end" fill="#222" stroke="#222">50</text>
<line x1="185.88" y1="468.4" x2="185.88" y2="471.4" stroke="#3a3a3a" stroke-width="0.9"/>
<line x1="66.5" y1="359.02" x2="69.5" y2="359.02" stroke="#3a3a3a" stroke-width="0.9"/>
<text x="185.88" y="479.1" font-size="7.6" text-anchor="middle" fill="#222" stroke="#222">70</text>
<text x="63.9" y="361.52" font-size="7.6" text-anchor="end" fill="#222" stroke="#222">70</text>
<text transform="translate(0,490.7)" font-size="7.7" fill="#222" stroke="#222"><tspan x="91.80" y="0">Measured</tspan><tspan x="124.70" y="0">(</tspan><tspan x="126.40" y="0" font-style="italic" font-size="8.4">μ</tspan><tspan x="130.90" y="0">m</tspan><tspan x="137.40" y="0">o</tspan><tspan x="141.60" y="0">l</tspan><tspan x="144.10" y="0">·</tspan><tspan x="146.50" y="0">m</tspan><tspan x="153.30" y="-3.2" font-size="5.8">−2</tspan><tspan x="163.20" y="0">·</tspan><tspan x="166.80" y="0">s</tspan><tspan x="170.20" y="-3.2" font-size="5.8">−1</tspan><tspan x="179.10" y="0">)</tspan></text>
<text transform="translate(50.8,405.9) rotate(-90)" font-size="7.7" fill="#222" stroke="#222"><tspan x="-42.2" y="0">Predicted</tspan><tspan x="-11.80" y="0">(</tspan><tspan x="-10.15" y="0" font-style="italic" font-size="8.4">μ</tspan><tspan x="-5.79" y="0">m</tspan><tspan x="0.52" y="0">o</tspan><tspan x="4.59" y="0">l</tspan><tspan x="7.02" y="0">·</tspan><tspan x="9.35" y="0">m</tspan><tspan x="15.91" y="-3.2" font-size="5.8">−2</tspan><tspan x="25.55" y="0">·</tspan><tspan x="29.04" y="0">s</tspan><tspan x="32.31" y="-3.2" font-size="5.8">−1</tspan><tspan x="40.97" y="0">)</tspan></text>
<circle cx="333.6" cy="380.7" r="2.45" fill="#1f8ad9"/>
<circle cx="327.6" cy="393.6" r="2.45" fill="#1f8ad9"/>
<circle cx="313.1" cy="396.1" r="2.45" fill="#1f8ad9"/>
<circle cx="311.6" cy="396.6" r="2.45" fill="#1f8ad9"/>
<circle cx="297.5" cy="401.7" r="2.45" fill="#1f8ad9"/>
<circle cx="299.9" cy="404.1" r="2.45" fill="#1f8ad9"/>
<circle cx="296.9" cy="406.6" r="2.45" fill="#1f8ad9"/>
<circle cx="306.5" cy="406" r="2.45" fill="#1f8ad9"/>
<circle cx="307.7" cy="410.8" r="2.45" fill="#1f8ad9"/>
<circle cx="293.3" cy="410.8" r="2.45" fill="#1f8ad9"/>
<circle cx="290.1" cy="421.4" r="2.45" fill="#1f8ad9"/>
<circle cx="295.4" cy="423" r="2.45" fill="#1f8ad9"/>
<circle cx="271.8" cy="427.3" r="2.45" fill="#1f8ad9"/>
<circle cx="272.2" cy="429.5" r="2.45" fill="#1f8ad9"/>
<circle cx="278.8" cy="428.5" r="2.45" fill="#1f8ad9"/>
<circle cx="282.6" cy="430.9" r="2.45" fill="#1f8ad9"/>
<circle cx="262.4" cy="447.7" r="2.45" fill="#1f8ad9"/>
<circle cx="323.1" cy="376.4" r="2.45" fill="#ef4f5c"/>
<circle cx="319.2" cy="381.3" r="2.45" fill="#ef4f5c"/>
<circle cx="311.6" cy="385.7" r="2.45" fill="#ef4f5c"/>
<circle cx="313.1" cy="404.2" r="2.45" fill="#ef4f5c"/>
<circle cx="285.1" cy="406" r="2.45" fill="#ef4f5c"/>
<circle cx="273.9" cy="446.3" r="2.45" fill="#ef4f5c"/>
<circle cx="254.2" cy="461.1" r="2.45" fill="#ef4f5c"/>
<line x1="262" y1="442.07" x2="333.6" y2="381.5" stroke="#0a52ad" stroke-width="1.75"/>
<line x1="254.2" y1="460.25" x2="323.1" y2="379.95" stroke="#d81c22" stroke-width="1.75"/>
<line x1="237.5" y1="468.4" x2="370.5" y2="343.4" stroke="#333" stroke-width="1.0" stroke-dasharray="4.8,1.3,0.8,1.3"/>
<rect x="324" y="347.1" width="43" height="24.3" rx="1.6" fill="#ffffff" fill-opacity="0.8" stroke="#d4d4d4" stroke-width="0.8"/>
<circle cx="335.2" cy="353.4" r="2.45" fill="#1f8ad9"/>
<circle cx="335.2" cy="364.3" r="2.45" fill="#ef4f5c"/>
<text x="349.2" y="355.7" font-size="7.7" fill="#262626" stroke="#262626">train</text>
<text x="349.2" y="366.6" font-size="7.7" fill="#262626" stroke="#262626">test</text>
<text x="242.9" y="353.9" fill="#2b7fc4" stroke="#2b7fc4" style="stroke-width:0.14px" font-size="7.15">Y=0.90X+3.59</text>
<text x="242.9" y="363.2" fill="#2b7fc4" stroke="#2b7fc4" style="stroke-width:0.14px" font-size="7.15">R<tspan dx="0.2" dy="-3.3" font-size="4.3">2</tspan><tspan dx="0.3" dy="3.3">=0.90</tspan></text>
<text x="242.9" y="371.4" fill="#2b7fc4" stroke="#2b7fc4" style="stroke-width:0.14px" font-size="7.15">RMSE=3.51</text>
<text x="318" y="448" fill="#e0424e" stroke="#e0424e" style="stroke-width:0.14px" font-size="7.15">Y=1.24X-7.24</text>
<text x="318" y="456.8" fill="#e0424e" stroke="#e0424e" style="stroke-width:0.14px" font-size="7.15">R<tspan dx="0.2" dy="-3.3" font-size="4.3">2</tspan><tspan dx="0.3" dy="3.3">=0.90</tspan></text>
<text x="318" y="465.1" fill="#e0424e" stroke="#e0424e" style="stroke-width:0.14px" font-size="7.15">RMSE=6.59</text>
<rect x="237.5" y="343.4" width="133" height="125" fill="none" stroke="#3a3a3a" stroke-width="1"/>
<line x1="237.5" y1="468.4" x2="237.5" y2="471.4" stroke="#3a3a3a" stroke-width="0.9"/>
<line x1="234.5" y1="468.4" x2="237.5" y2="468.4" stroke="#3a3a3a" stroke-width="0.9"/>
<text x="237.5" y="479.1" font-size="7.6" text-anchor="middle" fill="#222" stroke="#222">0</text>
<text x="231.9" y="470.9" font-size="7.6" text-anchor="end" fill="#222" stroke="#222">0</text>
<line x1="254.12" y1="468.4" x2="254.12" y2="471.4" stroke="#3a3a3a" stroke-width="0.9"/>
<line x1="234.5" y1="452.77" x2="237.5" y2="452.77" stroke="#3a3a3a" stroke-width="0.9"/>
<text x="254.12" y="479.1" font-size="7.6" text-anchor="middle" fill="#222" stroke="#222">10</text>
<text x="231.9" y="455.27" font-size="7.6" text-anchor="end" fill="#222" stroke="#222">10</text>
<line x1="287.38" y1="468.4" x2="287.38" y2="471.4" stroke="#3a3a3a" stroke-width="0.9"/>
<line x1="234.5" y1="421.52" x2="237.5" y2="421.52" stroke="#3a3a3a" stroke-width="0.9"/>
<text x="287.38" y="479.1" font-size="7.6" text-anchor="middle" fill="#222" stroke="#222">30</text>
<text x="231.9" y="424.02" font-size="7.6" text-anchor="end" fill="#222" stroke="#222">30</text>
<line x1="320.62" y1="468.4" x2="320.62" y2="471.4" stroke="#3a3a3a" stroke-width="0.9"/>
<line x1="234.5" y1="390.27" x2="237.5" y2="390.27" stroke="#3a3a3a" stroke-width="0.9"/>
<text x="320.62" y="479.1" font-size="7.6" text-anchor="middle" fill="#222" stroke="#222">50</text>
<text x="231.9" y="392.77" font-size="7.6" text-anchor="end" fill="#222" stroke="#222">50</text>
<line x1="353.88" y1="468.4" x2="353.88" y2="471.4" stroke="#3a3a3a" stroke-width="0.9"/>
<line x1="234.5" y1="359.02" x2="237.5" y2="359.02" stroke="#3a3a3a" stroke-width="0.9"/>
<text x="353.88" y="479.1" font-size="7.6" text-anchor="middle" fill="#222" stroke="#222">70</text>
<text x="231.9" y="361.52" font-size="7.6" text-anchor="end" fill="#222" stroke="#222">70</text>
<text transform="translate(0,490.7)" font-size="7.7" fill="#222" stroke="#222"><tspan x="259.80" y="0">Measured</tspan><tspan x="292.70" y="0">(</tspan><tspan x="294.40" y="0" font-style="italic" font-size="8.4">μ</tspan><tspan x="298.90" y="0">m</tspan><tspan x="305.40" y="0">o</tspan><tspan x="309.60" y="0">l</tspan><tspan x="312.10" y="0">·</tspan><tspan x="314.50" y="0">m</tspan><tspan x="321.30" y="-3.2" font-size="5.8">−2</tspan><tspan x="331.20" y="0">·</tspan><tspan x="334.80" y="0">s</tspan><tspan x="338.20" y="-3.2" font-size="5.8">−1</tspan><tspan x="347.10" y="0">)</tspan></text>
<text transform="translate(218.8,405.9) rotate(-90)" font-size="7.7" fill="#222" stroke="#222"><tspan x="-42.2" y="0">Predicted</tspan><tspan x="-11.80" y="0">(</tspan><tspan x="-10.15" y="0" font-style="italic" font-size="8.4">μ</tspan><tspan x="-5.79" y="0">m</tspan><tspan x="0.52" y="0">o</tspan><tspan x="4.59" y="0">l</tspan><tspan x="7.02" y="0">·</tspan><tspan x="9.35" y="0">m</tspan><tspan x="15.91" y="-3.2" font-size="5.8">−2</tspan><tspan x="25.55" y="0">·</tspan><tspan x="29.04" y="0">s</tspan><tspan x="32.31" y="-3.2" font-size="5.8">−1</tspan><tspan x="40.97" y="0">)</tspan></text>
<circle cx="501.1" cy="384.5" r="2.45" fill="#1f8ad9"/>
<circle cx="495.4" cy="391.4" r="2.45" fill="#1f8ad9"/>
<circle cx="486.9" cy="391.4" r="2.45" fill="#1f8ad9"/>
<circle cx="479.7" cy="392" r="2.45" fill="#1f8ad9"/>
<circle cx="477.3" cy="395.9" r="2.45" fill="#1f8ad9"/>
<circle cx="480.9" cy="398.9" r="2.45" fill="#1f8ad9"/>
<circle cx="474.3" cy="401.9" r="2.45" fill="#1f8ad9"/>
<circle cx="464.9" cy="403.7" r="2.45" fill="#1f8ad9"/>
<circle cx="468.9" cy="409.2" r="2.45" fill="#1f8ad9"/>
<circle cx="476.7" cy="408.3" r="2.45" fill="#1f8ad9"/>
<circle cx="462.2" cy="416.4" r="2.45" fill="#1f8ad9"/>
<circle cx="465.8" cy="414.3" r="2.45" fill="#1f8ad9"/>
<circle cx="453.2" cy="415.3" r="2.45" fill="#1f8ad9"/>
<circle cx="461.7" cy="416.7" r="2.45" fill="#1f8ad9"/>
<circle cx="439.5" cy="425.5" r="2.45" fill="#1f8ad9"/>
<circle cx="439.9" cy="429" r="2.45" fill="#1f8ad9"/>
<circle cx="446.7" cy="428.7" r="2.45" fill="#1f8ad9"/>
<circle cx="450" cy="431.3" r="2.45" fill="#1f8ad9"/>
<circle cx="442.2" cy="442.8" r="2.45" fill="#1f8ad9"/>
<circle cx="430" cy="445" r="2.45" fill="#1f8ad9"/>
<circle cx="490.9" cy="386.9" r="2.45" fill="#ef4f5c"/>
<circle cx="482.5" cy="402.8" r="2.45" fill="#ef4f5c"/>
<circle cx="474.3" cy="408" r="2.45" fill="#ef4f5c"/>
<circle cx="475.5" cy="415.5" r="2.45" fill="#ef4f5c"/>
<circle cx="463" cy="420.9" r="2.45" fill="#ef4f5c"/>
<circle cx="457.8" cy="426.8" r="2.45" fill="#ef4f5c"/>
<circle cx="441.9" cy="438.1" r="2.45" fill="#ef4f5c"/>
<circle cx="421.9" cy="460.1" r="2.45" fill="#ef4f5c"/>
<line x1="429.1" y1="442.85" x2="501.1" y2="381.95" stroke="#0a52ad" stroke-width="1.75"/>
<line x1="421.9" y1="460.69" x2="491.1" y2="393.05" stroke="#d81c22" stroke-width="1.75"/>
<line x1="405.4" y1="468.4" x2="538.4" y2="343.4" stroke="#333" stroke-width="1.0" stroke-dasharray="4.8,1.3,0.8,1.3"/>
<rect x="491.9" y="347.1" width="43" height="24.3" rx="1.6" fill="#ffffff" fill-opacity="0.8" stroke="#d4d4d4" stroke-width="0.8"/>
<circle cx="503.1" cy="353.4" r="2.45" fill="#1f8ad9"/>
<circle cx="503.1" cy="364.3" r="2.45" fill="#ef4f5c"/>
<text x="517.1" y="355.7" font-size="7.7" fill="#262626" stroke="#262626">train</text>
<text x="517.1" y="366.6" font-size="7.7" fill="#262626" stroke="#262626">test</text>
<text x="410.9" y="353.9" fill="#2b7fc4" stroke="#2b7fc4" style="stroke-width:0.14px" font-size="7.15">Y=0.90X+3.52</text>
<text x="410.9" y="363.2" fill="#2b7fc4" stroke="#2b7fc4" style="stroke-width:0.14px" font-size="7.15">R<tspan dx="0.2" dy="-3.3" font-size="4.3">2</tspan><tspan dx="0.3" dy="3.3">=0.90</tspan></text>
<text x="410.9" y="371.4" fill="#2b7fc4" stroke="#2b7fc4" style="stroke-width:0.14px" font-size="7.15">RMSE=3.60</text>
<text x="486" y="448" fill="#e0424e" stroke="#e0424e" style="stroke-width:0.14px" font-size="7.15">Y=1.04X-5.39</text>
<text x="486" y="456.8" fill="#e0424e" stroke="#e0424e" style="stroke-width:0.14px" font-size="7.15">R<tspan dx="0.2" dy="-3.3" font-size="4.3">2</tspan><tspan dx="0.3" dy="3.3">=0.97</tspan></text>
<text x="486" y="465.1" fill="#e0424e" stroke="#e0424e" style="stroke-width:0.14px" font-size="7.15">RMSE=4.39</text>
<rect x="405.4" y="343.4" width="133" height="125" fill="none" stroke="#3a3a3a" stroke-width="1"/>
<line x1="405.4" y1="468.4" x2="405.4" y2="471.4" stroke="#3a3a3a" stroke-width="0.9"/>
<line x1="402.4" y1="468.4" x2="405.4" y2="468.4" stroke="#3a3a3a" stroke-width="0.9"/>
<text x="405.4" y="479.1" font-size="7.6" text-anchor="middle" fill="#222" stroke="#222">0</text>
<text x="399.8" y="470.9" font-size="7.6" text-anchor="end" fill="#222" stroke="#222">0</text>
<line x1="422.02" y1="468.4" x2="422.02" y2="471.4" stroke="#3a3a3a" stroke-width="0.9"/>
<line x1="402.4" y1="452.77" x2="405.4" y2="452.77" stroke="#3a3a3a" stroke-width="0.9"/>
<text x="422.02" y="479.1" font-size="7.6" text-anchor="middle" fill="#222" stroke="#222">10</text>
<text x="399.8" y="455.27" font-size="7.6" text-anchor="end" fill="#222" stroke="#222">10</text>
<line x1="455.27" y1="468.4" x2="455.27" y2="471.4" stroke="#3a3a3a" stroke-width="0.9"/>
<line x1="402.4" y1="421.52" x2="405.4" y2="421.52" stroke="#3a3a3a" stroke-width="0.9"/>
<text x="455.27" y="479.1" font-size="7.6" text-anchor="middle" fill="#222" stroke="#222">30</text>
<text x="399.8" y="424.02" font-size="7.6" text-anchor="end" fill="#222" stroke="#222">30</text>
<line x1="488.52" y1="468.4" x2="488.52" y2="471.4" stroke="#3a3a3a" stroke-width="0.9"/>
<line x1="402.4" y1="390.27" x2="405.4" y2="390.27" stroke="#3a3a3a" stroke-width="0.9"/>
<text x="488.52" y="479.1" font-size="7.6" text-anchor="middle" fill="#222" stroke="#222">50</text>
<text x="399.8" y="392.77" font-size="7.6" text-anchor="end" fill="#222" stroke="#222">50</text>
<line x1="521.77" y1="468.4" x2="521.77" y2="471.4" stroke="#3a3a3a" stroke-width="0.9"/>
<line x1="402.4" y1="359.02" x2="405.4" y2="359.02" stroke="#3a3a3a" stroke-width="0.9"/>
<text x="521.77" y="479.1" font-size="7.6" text-anchor="middle" fill="#222" stroke="#222">70</text>
<text x="399.8" y="361.52" font-size="7.6" text-anchor="end" fill="#222" stroke="#222">70</text>
<text transform="translate(0,490.7)" font-size="7.7" fill="#222" stroke="#222"><tspan x="427.70" y="0">Measured</tspan><tspan x="460.60" y="0">(</tspan><tspan x="462.30" y="0" font-style="italic" font-size="8.4">μ</tspan><tspan x="466.80" y="0">m</tspan><tspan x="473.30" y="0">o</tspan><tspan x="477.50" y="0">l</tspan><tspan x="480.00" y="0">·</tspan><tspan x="482.40" y="0">m</tspan><tspan x="489.20" y="-3.2" font-size="5.8">−2</tspan><tspan x="499.10" y="0">·</tspan><tspan x="502.70" y="0">s</tspan><tspan x="506.10" y="-3.2" font-size="5.8">−1</tspan><tspan x="515.00" y="0">)</tspan></text>
<text transform="translate(386.7,405.9) rotate(-90)" font-size="7.7" fill="#222" stroke="#222"><tspan x="-42.2" y="0">Predicted</tspan><tspan x="-11.80" y="0">(</tspan><tspan x="-10.15" y="0" font-style="italic" font-size="8.4">μ</tspan><tspan x="-5.79" y="0">m</tspan><tspan x="0.52" y="0">o</tspan><tspan x="4.59" y="0">l</tspan><tspan x="7.02" y="0">·</tspan><tspan x="9.35" y="0">m</tspan><tspan x="15.91" y="-3.2" font-size="5.8">−2</tspan><tspan x="25.55" y="0">·</tspan><tspan x="29.04" y="0">s</tspan><tspan x="32.31" y="-3.2" font-size="5.8">−1</tspan><tspan x="40.97" y="0">)</tspan></text>
<text x="137.9" y="12.8" font-size="11.0" text-anchor="middle" fill="#1a1a1a" stroke="#1a1a1a">HVI</text>
<text x="304.6" y="14.6" font-size="11.0" text-anchor="middle" fill="#1a1a1a" stroke="#1a1a1a">WVI</text>
<text x="476" y="14.7" font-size="11.0" text-anchor="middle" fill="#1a1a1a" stroke="#1a1a1a">HVI+WVI</text>
<text x="24.6" y="88" font-size="11.0" fill="#1a1a1a" stroke="#1a1a1a">Top</text>
<text x="5.7" y="254.8" font-size="11.0" fill="#1a1a1a" stroke="#1a1a1a">Middle</text>
<text x="5.2" y="411" font-size="11.0" fill="#1a1a1a" stroke="#1a1a1a">Bottom</text>
</svg>
</body></html>
